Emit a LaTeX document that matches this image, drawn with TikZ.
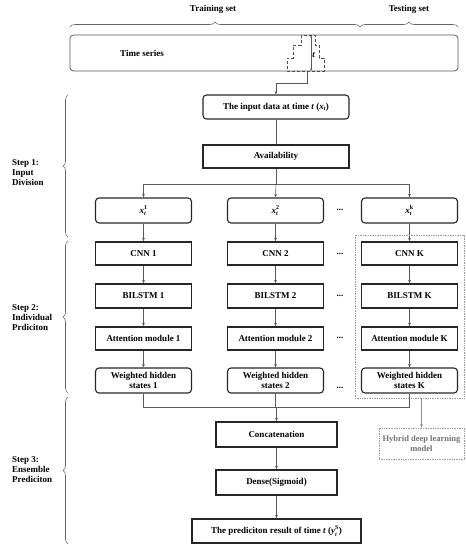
\documentclass[tikz,border=0pt]{standalone}
\usepackage{amsmath}
\usepackage{fontspec}
\setmainfont{Liberation Serif}
\usetikzlibrary{arrows.meta,decorations.pathreplacing,calc}
\newcommand{\itv}[1]{\text{\bfseries\itshape #1}}
\begin{document}
\begin{tikzpicture}[x=1pt,y=-1pt,
  font=\fontsize{9}{10}\selectfont\bfseries,
  rbox/.style={draw=black!85,line width=1.1pt,rounded corners=3.5pt,align=center,inner sep=1pt},
  sbox/.style={draw=black!85,line width=1.3pt,align=center,inner sep=1pt},
  conn/.style={draw=black!65,line width=0.6pt},
  arr/.style={conn,-{Stealth[length=3.5pt,width=2.8pt]}},
  brc/.style={draw=black!60,line width=0.6pt,decorate,decoration={brace,amplitude=5pt}},
  lbl/.style={align=left,anchor=west,inner sep=0pt}
]
\useasboundingbox (0,0) rectangle (466,550);

% top labels and braces
\node (train) at (213,9) {Training set};
\node (test) at (409,9) {Testing set};
\draw[brc] (70,27) -- (360,27);
\draw[brc] (360,27) -- (458,27);

% time series
\node[rbox,draw=black!65,line width=0.8pt,minimum width=388pt,minimum height=36pt] (ts) at (264,53) {};
\node (tslab) at (142,53) {Time series};
\draw[black!70,densely dashed,line width=0.6pt] (301,35) -- (301,45) -- (293,45) -- (293,58) -- (287,58) -- (287,71) -- (324,71) -- (324,58) -- (319,58) -- (319,45) -- (315,45) -- (315,35) -- cycle;
\coordinate (ttop) at (311,35);
\coordinate (tbot) at (311,71);
\draw[conn,{Stealth[length=2.5pt,width=2pt]}-{Stealth[length=2.5pt,width=2pt]}] (ttop) -- (tbot);
\node[font=\fontsize{9}{10}\selectfont\bfseries\itshape,inner sep=0pt] (tl) at (313.5,55) {t};
\coordinate (tout) at (307,71);

% step 1
\node[rbox,minimum width=146pt,minimum height=24pt] (inp) at (276,107) {The input data at time \textit{t} ($\itv{x}_{\itv{t}}$)};
\node[sbox,minimum width=146pt,minimum height=23pt] (avail) at (276,156.5) {Availability};
\draw[arr] (tout) -- (307,83) -| (inp.north);
\draw[conn] (inp) -- (avail);

\foreach \n/\x/\s in {1/143.5/1,2/275.5/2,3/409.5/k}{
  \node[rbox,minimum width=96pt,minimum height=25pt] (x\n) at (\x,210.5) {$\itv{x}_{\itv{t}}^{\text{\bfseries\s}}$};
}
\node[sbox,minimum width=96pt,minimum height=23pt] (c1) at (143.5,253.5) {CNN 1};
\node[sbox,minimum width=96pt,minimum height=23pt] (c2) at (275.5,253.5) {CNN 2};
\node[sbox,minimum width=96pt,minimum height=23pt] (c3) at (409.5,253.5) {CNN K};
\node[sbox,minimum width=96pt,minimum height=24pt] (b1) at (143.5,296) {BILSTM 1};
\node[sbox,minimum width=96pt,minimum height=24pt] (b2) at (275.5,296) {BILSTM 2};
\node[sbox,minimum width=96pt,minimum height=24pt] (b3) at (409.5,296) {BILSTM K};
\node[sbox,minimum width=96pt,minimum height=23pt] (a1) at (143.5,338.5) {Attention module 1};
\node[sbox,minimum width=96pt,minimum height=23pt] (a2) at (275.5,338.5) {Attention module 2};
\node[sbox,minimum width=96pt,minimum height=23pt] (a3) at (409.5,338.5) {Attention module K};
\node[rbox,minimum width=96pt,minimum height=25pt] (w1) at (143.5,380.5) {Weighted hidden\\states 1};
\node[rbox,minimum width=96pt,minimum height=25pt] (w2) at (275.5,380.5) {Weighted hidden\\states 2};
\node[rbox,minimum width=96pt,minimum height=25pt] (w3) at (409.5,380.5) {Weighted hidden\\states K};

\node (d1) at (340,210) {...};
\node (d2) at (340,254) {...};
\node (d3) at (340,296) {...};
\node (d4) at (340,338) {...};
\node (d5) at (340,388) {...};

\coordinate (split) at (276,184);
\draw[conn] (avail.south) -- (split);
\draw[arr] (split) -| (x1.north);
\draw[arr] (split) -| (x3.north);
\draw[arr] (split) -- (x2.north);
\foreach \i in {1,2,3}{
  \draw[arr] (x\i) -- (c\i);
  \draw[arr] (c\i) -- (b\i);
  \draw[arr] (b\i) -- (a\i);
  \draw[arr] (a\i) -- (w\i);
}

% hybrid dashed box
\node[draw=black!40,densely dotted,line width=0.7pt,minimum width=109pt,minimum height=163pt,inner sep=0pt] (hyb) at (409.5,316.5) {};
\node[draw=black!40,densely dotted,line width=0.7pt,minimum width=85pt,minimum height=31pt,text=black!55,align=center,inner sep=0pt,font=\fontsize{8.5}{10}\selectfont\bfseries] (hyblab) at (421.5,443.5) {Hybrid deep learning\\model};
\draw[draw=black!45,line width=0.6pt,-{Stealth[length=3.5pt,width=2.8pt]}] (hyb.south -| hyblab.north) -- (hyblab.north);

% step 3
\node[sbox,minimum width=121pt,minimum height=25pt] (cat) at (276.5,434.5) {Concatenation};
\node[sbox,minimum width=121pt,minimum height=25pt] (den) at (276.5,482.5) {Dense(Sigmoid)};
\node[sbox,minimum width=169pt,minimum height=24pt] (res) at (276.5,531) {The prediciton result of time \textit{t} ($\itv{y}_{\itv{t}}^{\text{\bfseries S}}$)};
\coordinate (merge) at (276.5,407);
\draw[conn] (w1.south) |- (merge);
\draw[conn] (w3.south) |- (merge);
\draw[conn] (w2.south) -- (w2.south |- merge);
\draw[arr] (merge) -- (cat.north);
\draw[arr] (cat) -- (den);
\draw[arr] (den) -- (res);

% step braces and labels
\draw[brc] (68,237) -- (68,95);
\draw[brc] (68,393) -- (68,241);
\draw[brc] (68,544) -- (68,397);
\node[lbl] (s1) at (12,172.5) {Step 1:\\Input\\Division};
\node[lbl] (s2) at (12,318) {Step 2:\\Individual\\Prdiciton};
\node[lbl] (s3) at (12,469.5) {Step 3:\\Ensemble\\Prediciton};
\end{tikzpicture}
\end{document}
